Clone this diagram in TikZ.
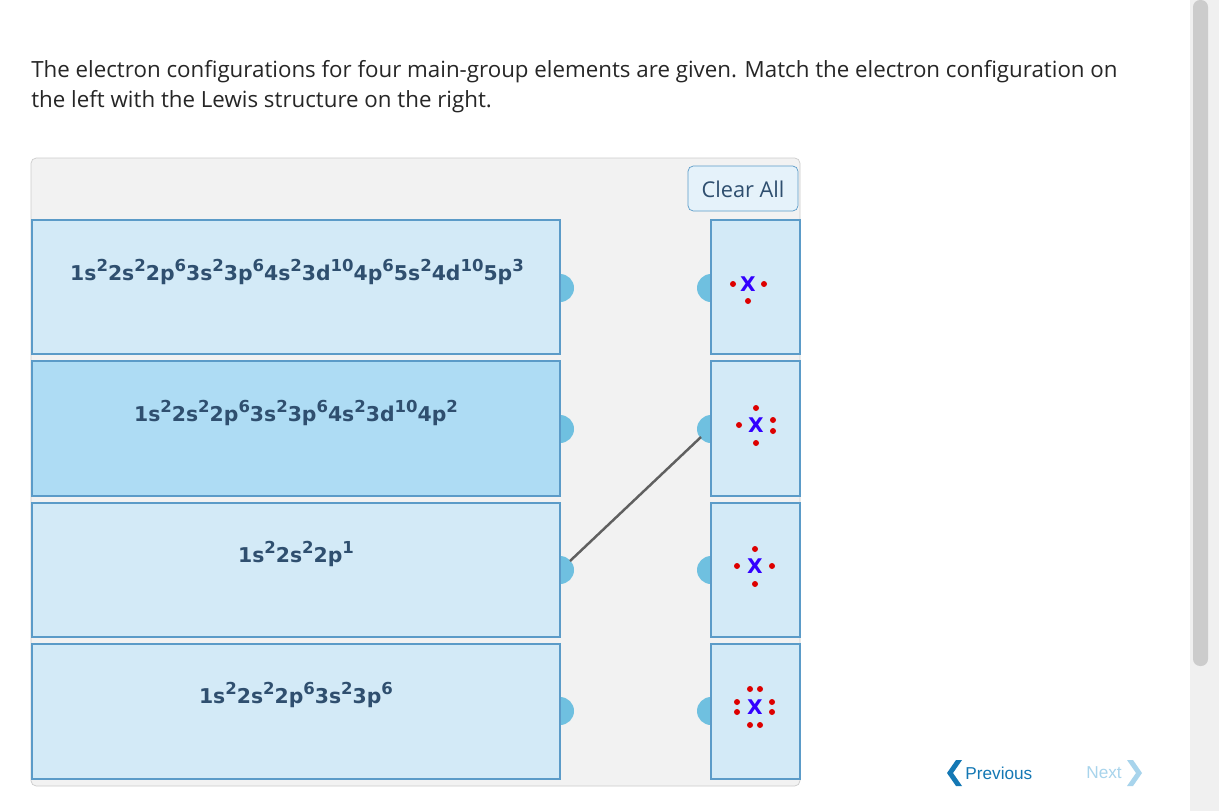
\documentclass[tikz,border=0pt]{standalone}
\usepackage{fontspec}
\setmainfont{Open Sans}
\newfontfamily\cfgfont{DejaVu Sans}
\newfontfamily\navfont{Liberation Sans}
\definecolor{panelbg}{HTML}{F2F2F2}
\definecolor{boxbg}{HTML}{D3EAF7}
\definecolor{boxsel}{HTML}{AEDCF4}
\definecolor{boxline}{HTML}{5B9BC8}
\definecolor{knob}{HTML}{6FC0E0}
\definecolor{cfgtext}{HTML}{2F4F6F}
\definecolor{xblue}{HTML}{3300FF}
\definecolor{dotred}{HTML}{DD0000}
\definecolor{navblue}{HTML}{1478B4}
\definecolor{navlight}{HTML}{A8D4EC}
\newcommand\esup[1]{\raisebox{0.42em}{\fontsize{9.4}{10}\selectfont #1}}
\begin{document}
\begin{tikzpicture}[x=0.02cm,y=-0.02cm,
  cfgbox/.style={draw=boxline,fill=boxbg,line width=0.6pt},
  knobc/.style={fill=knob},
  cfg/.style={font=\cfgfont\bfseries\fontsize{11.6}{13}\selectfont,text=cfgtext},
  xlab/.style={font=\cfgfont\bfseries\fontsize{11.5}{13}\selectfont,text=xblue,inner sep=0pt},
  edot/.style={fill=dotred,radius=3}]
\useasboundingbox (0,0) rectangle (1219,811);
\fill[white] (0,0) rectangle (1219,811);
% scrollbar
\fill[gray!12] (1190,0) rectangle (1219,811);
\fill[gray!40, rounded corners=4pt] (1193,0) rectangle (1208,666);
% question
\node[anchor=base west,inner sep=0pt,font=\fontsize{12.7}{14}\selectfont,text=black!85] (q1) at (31,78) {The electron configurations for four main-group elements are given. Match the electron configuration on};
\node[anchor=base west,inner sep=0pt,font=\fontsize{12.7}{14}\selectfont,text=black!85] (q2) at (31,108) {the left with the Lewis structure on the right.};
% panel
\draw[gray!40,fill=panelbg,rounded corners=3pt] (31,158) rectangle (800,786);
\draw[boxline,fill=boxbg!60,rounded corners=3pt] (688,166) rectangle (798,211);
\node[font=\fontsize{12.4}{14}\selectfont,text=cfgtext] (clr) at (743,189) {Clear All};
% knobs (behind boxes)
\foreach \y in {288,429,570,711}{
  \fill[knobc] (560,\y) circle (14);
  \fill[knobc] (711,\y) circle (14);
}
% left boxes
\draw[cfgbox] (32,220) rectangle (560,354);
\draw[cfgbox,fill=boxsel] (32,361) rectangle (560,496);
\draw[cfgbox] (32,503) rectangle (560,637);
\draw[cfgbox] (32,644) rectangle (560,779);
% right boxes
\foreach \t/\b in {220/354,361/496,503/637,644/779}{
  \draw[cfgbox] (711,\t) rectangle (800,\b);
}
% texts
\node[cfg] (c1) at (297,272) {1s\esup{2}2s\esup{2}2p\esup{6}3s\esup{2}3p\esup{6}4s\esup{2}3d\esup{10}4p\esup{6}5s\esup{2}4d\esup{10}5p\esup{3}};
\node[cfg] (c2) at (296,413) {1s\esup{2}2s\esup{2}2p\esup{6}3s\esup{2}3p\esup{6}4s\esup{2}3d\esup{10}4p\esup{2}};
\node[cfg] (c3) at (296,554) {1s\esup{2}2s\esup{2}2p\esup{1}};
\node[cfg] (c4) at (296,695) {1s\esup{2}2s\esup{2}2p\esup{6}3s\esup{2}3p\esup{6}};
% connector
\coordinate (k3) at (570,561);
\coordinate (r2) at (701,437);
\draw[gray!75!black,line width=1.4pt] (k3) -- (r2);
% Lewis structures
\node[xlab] (x1) at (748,284) {X};
\fill[edot] (733,284) circle; \fill[edot] (764,284) circle; \fill[edot] (748,301) circle;
\node[xlab] (x2) at (756,425) {X};
\fill[edot] (756,408) circle; \fill[edot] (739,425) circle; \fill[edot] (773,420) circle; \fill[edot] (773,431) circle; \fill[edot] (756,443) circle;
\node[xlab] (x3) at (755,566) {X};
\fill[edot] (755,549) circle; \fill[edot] (737,566) circle; \fill[edot] (772,566) circle; \fill[edot] (755,584) circle;
\node[xlab] (x4) at (755,707) {X};
\fill[edot] (750,689) circle; \fill[edot] (760,689) circle;
\fill[edot] (737,702) circle; \fill[edot] (737,712) circle;
\fill[edot] (772,702) circle; \fill[edot] (772,712) circle;
\fill[edot] (750,725) circle; \fill[edot] (760,725) circle;
% nav
\fill[navblue] (962,760) -- (956,760) -- (947,773) -- (956,786) -- (962,786) -- (953,773) -- cycle;
\node[anchor=west,inner sep=0pt,font=\navfont\fontsize{9.8}{11}\selectfont,text=navblue] (prev) at (965,773) {Previous};
\node[anchor=west,inner sep=0pt,font=\navfont\fontsize{9.8}{11}\selectfont,text=navlight] (next) at (1086,773) {Next};
\fill[navlight] (1127,760) -- (1133,760) -- (1142,773) -- (1133,786) -- (1127,786) -- (1136,773) -- cycle;
\end{tikzpicture}
\end{document}
